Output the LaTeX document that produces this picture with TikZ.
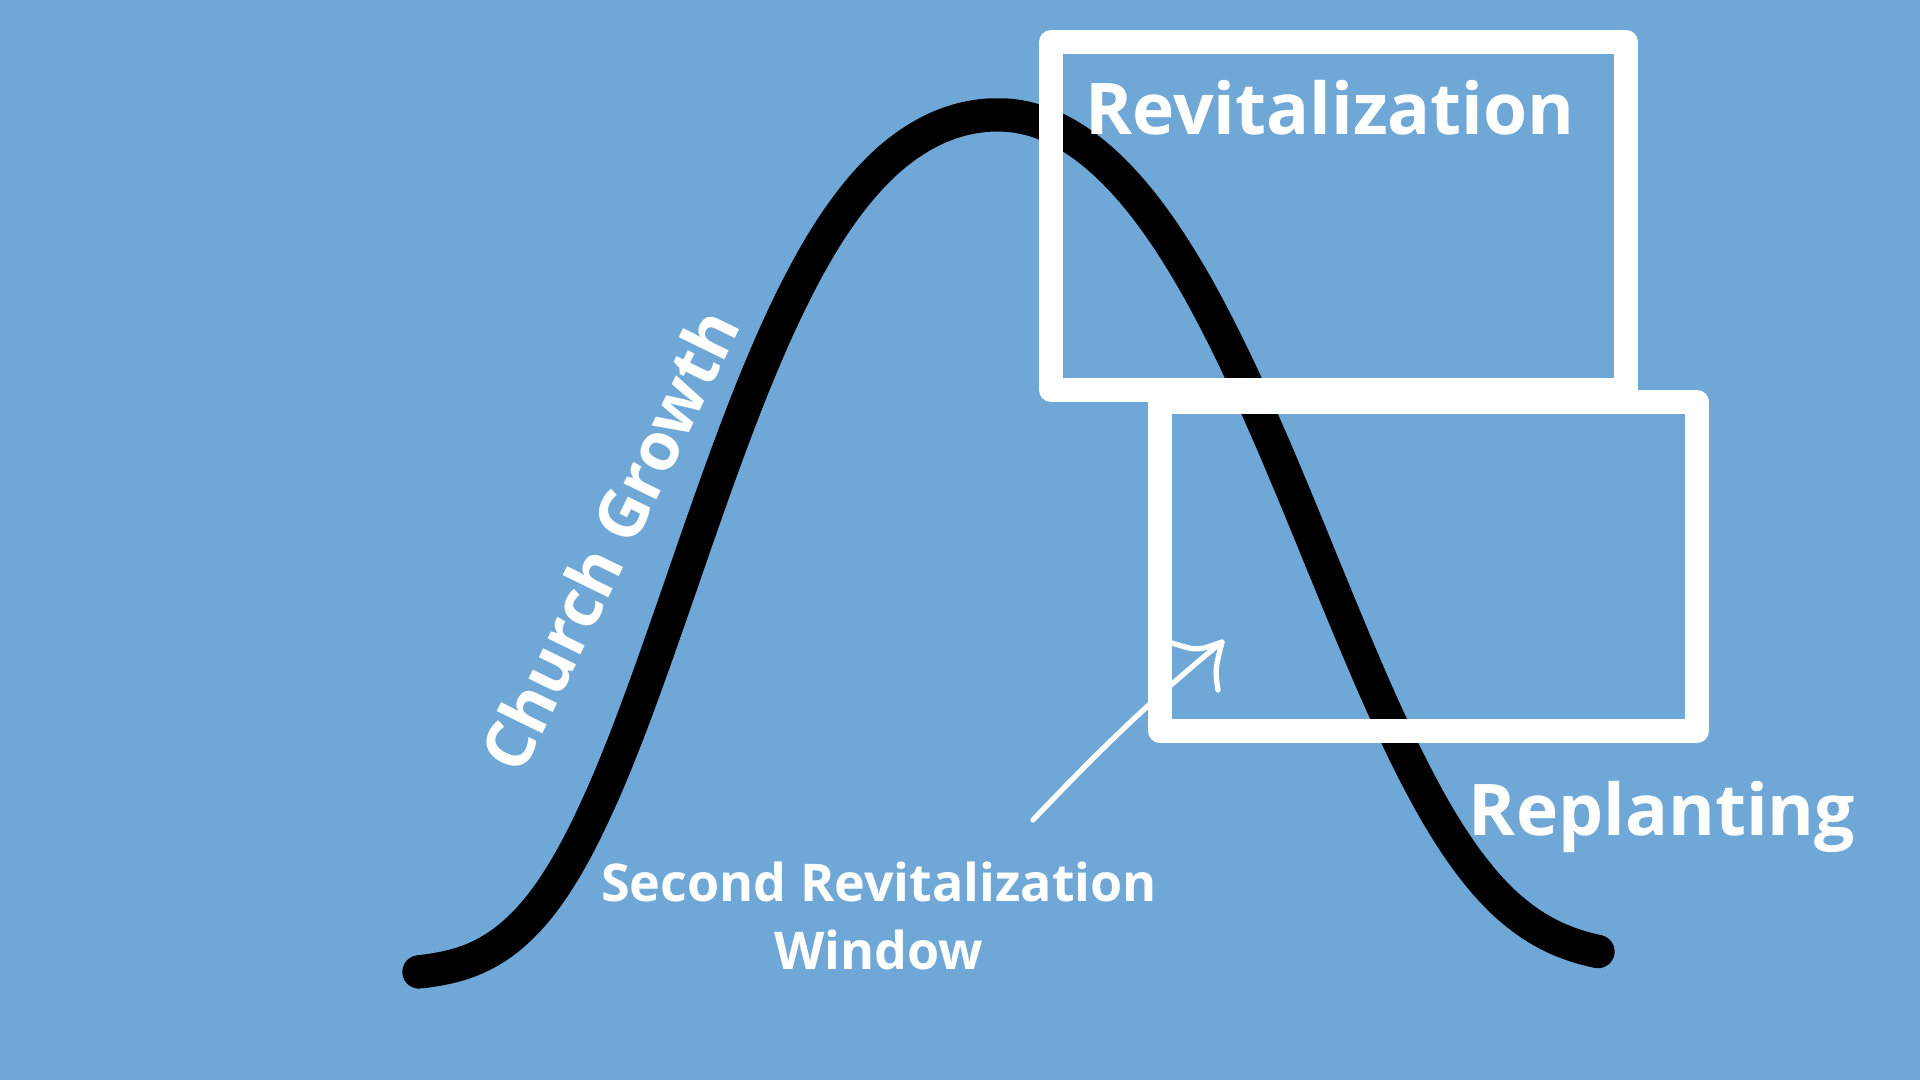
\documentclass[tikz,border=0pt]{standalone}
\usepackage{fontspec}
\setmainfont{Open Sans}
\definecolor{sky}{RGB}{111,168,215}

\begin{document}
\begin{tikzpicture}[
  declare function={
    riseside(\u)=1.05+8.60*exp(-(0.0405*\u*\u+0.0038*\u*\u*\u*\u));
    fallside(\u)=1.20+8.45*exp(-(0.0488*\u*\u+0.0022*\u*\u*\u*\u));},
  curve/.style={line width=9.5pt, line cap=round, line join=round},
  frame/.style={draw=white, line width=6.8pt, line join=round},
  heading/.style={text=white, inner sep=0pt, font=\bfseries\fontsize{20.3}{24}\selectfont},
  small/.style={text=white, inner sep=0pt, font=\bfseries\fontsize{14.8}{19.5}\selectfont},
  hand/.style={white, line width=1.5pt, line cap=round, line join=round}]
  % background
  \fill[sky] (0,0) rectangle (19.2,10.8);
  % the growth curve, rising and falling
  \draw[curve]
    plot[domain=4.19:9.98, samples=70, smooth] (\x, {riseside(9.98-\x)})
    -- plot[domain=9.98:15.98, samples=70, smooth] (\x, {fallside(\x-9.98)});
  % the two windows
  \draw[frame] (10.51,6.90) rectangle (16.26,10.38);
  \draw[frame] (11.60,3.49) rectangle (16.97,6.78);
  % labels
  \node[heading, anchor=base] (revit) at (13.30,9.45) {Revitalization};
  \node[heading, anchor=base] (replant) at (16.62,2.44) {Replanting};
  \node[heading, rotate=64, font=\bfseries\fontsize{19}{23}\selectfont] (growth) at (6.09,5.40) {Church Growth};
  \node[small, align=center] (window) at (8.79,1.64) {Second Revitalization\\Window};
  % hand drawn arrow
  \coordinate (tail) at (10.33,2.60);
  \coordinate (tip) at (12.22,4.38);
  \draw[hand] (tail) .. controls (10.90,3.20) and (11.50,3.80) .. (tip);
  \draw[hand] (11.72,4.37) .. controls (11.97,4.29) .. (tip)
    .. controls (12.15,4.10) .. (12.18,3.90);
\end{tikzpicture}
\end{document}
